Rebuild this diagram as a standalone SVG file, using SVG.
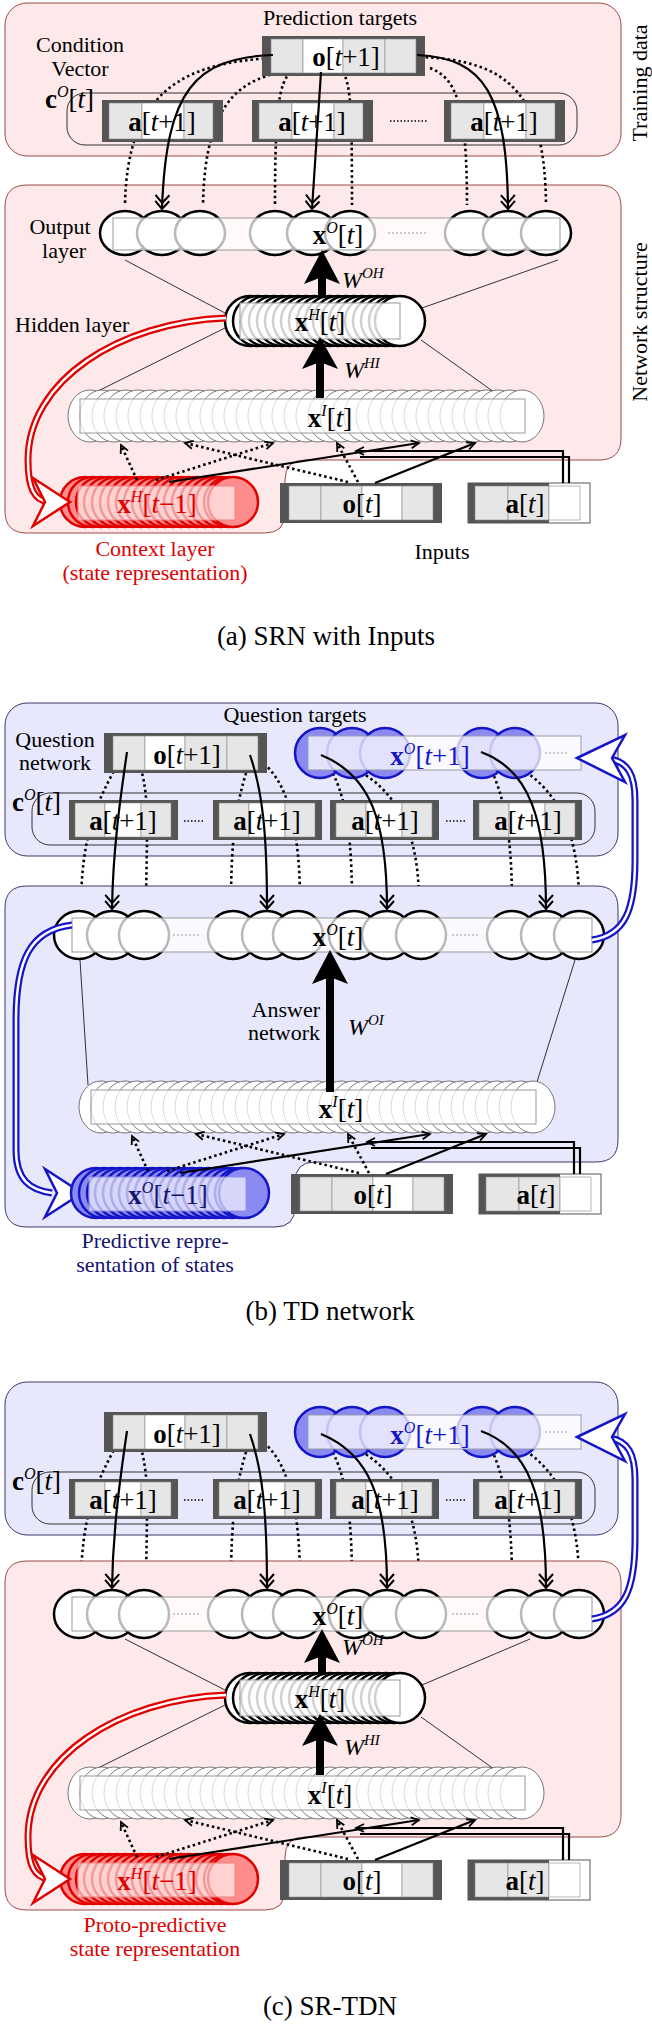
<svg xmlns="http://www.w3.org/2000/svg" xmlns:xlink="http://www.w3.org/1999/xlink" width="652" height="2025" viewBox="0 0 652 2025">
<style>
.t{font-family:"Liberation Serif",serif;font-size:22px;fill:#000}
.m{font-family:"Liberation Serif",serif;font-size:27px;fill:#000}
.w{font-family:"Liberation Serif",serif;font-size:24px;font-style:italic;fill:#000}
.cap{font-family:"Liberation Serif",serif;font-size:27px;fill:#000}
.b{font-weight:bold}.i{font-style:italic}
.dot{fill:none;stroke:#000;stroke-width:2.6;stroke-dasharray:2.5 3}
.sol{fill:none;stroke:#000;stroke-width:2.2}
.thin{fill:none;stroke:#000;stroke-width:0.8}
.pink{fill:#fde9e9;stroke:#a04848;stroke-width:1}
.blue{fill:#e8e8fc;stroke:#38386a;stroke-width:1}
.cin{fill:#fff;stroke:#555;stroke-width:0.8}
.cout{fill:#fff;stroke:#000;stroke-width:2.5}
.bar{fill:#fff;fill-opacity:0.72;stroke:#999;stroke-width:1}
.hbar{fill:#fff;fill-opacity:0.82;stroke:#999;stroke-width:1}
.cred{fill:#ff8c8c;stroke:#e00000;stroke-width:2.5}
.cblu{fill:#8a8af2;stroke:#1515c8;stroke-width:2.5}
.dk{fill:#555}.lg{fill:#e6e6e6;stroke:#888;stroke-width:0.6}.wh{fill:#fff;stroke:#888;stroke-width:0.6}
</style>
<defs>
<marker id="dbl" markerUnits="userSpaceOnUse" viewBox="0 0 16 16" markerWidth="16" markerHeight="16" refX="15" refY="8" orient="auto" overflow="visible"><path d="M1,1 L9,8 L1,15 M7,1 L15,8 L7,15" fill="none" stroke="#000" stroke-width="2" stroke-dasharray="none"/></marker>
<marker id="sm" markerUnits="userSpaceOnUse" viewBox="0 0 10 10" markerWidth="10" markerHeight="10" refX="9" refY="5" orient="auto" overflow="visible"><path d="M1,1 L9,5 L1,9" fill="none" stroke="#000" stroke-width="1.8" stroke-dasharray="none"/></marker>
<g id="inLayer">
<ellipse class="cin" cx="90" cy="416" rx="22" ry="26"/><ellipse class="cin" cx="102" cy="416" rx="22" ry="26"/><ellipse class="cin" cx="114" cy="416" rx="22" ry="26"/><ellipse class="cin" cx="126" cy="416" rx="22" ry="26"/><ellipse class="cin" cx="138" cy="416" rx="22" ry="26"/><ellipse class="cin" cx="150" cy="416" rx="22" ry="26"/><ellipse class="cin" cx="162" cy="416" rx="22" ry="26"/><ellipse class="cin" cx="174" cy="416" rx="22" ry="26"/><ellipse class="cin" cx="186" cy="416" rx="22" ry="26"/><ellipse class="cin" cx="198" cy="416" rx="22" ry="26"/><ellipse class="cin" cx="210" cy="416" rx="22" ry="26"/><ellipse class="cin" cx="222" cy="416" rx="22" ry="26"/><ellipse class="cin" cx="234" cy="416" rx="22" ry="26"/><ellipse class="cin" cx="246" cy="416" rx="22" ry="26"/><ellipse class="cin" cx="258" cy="416" rx="22" ry="26"/><ellipse class="cin" cx="270" cy="416" rx="22" ry="26"/><ellipse class="cin" cx="282" cy="416" rx="22" ry="26"/><ellipse class="cin" cx="294" cy="416" rx="22" ry="26"/><ellipse class="cin" cx="306" cy="416" rx="22" ry="26"/><ellipse class="cin" cx="318" cy="416" rx="22" ry="26"/><ellipse class="cin" cx="330" cy="416" rx="22" ry="26"/><ellipse class="cin" cx="342" cy="416" rx="22" ry="26"/><ellipse class="cin" cx="354" cy="416" rx="22" ry="26"/><ellipse class="cin" cx="366" cy="416" rx="22" ry="26"/><ellipse class="cin" cx="378" cy="416" rx="22" ry="26"/><ellipse class="cin" cx="390" cy="416" rx="22" ry="26"/><ellipse class="cin" cx="402" cy="416" rx="22" ry="26"/><ellipse class="cin" cx="414" cy="416" rx="22" ry="26"/><ellipse class="cin" cx="426" cy="416" rx="22" ry="26"/><ellipse class="cin" cx="438" cy="416" rx="22" ry="26"/><ellipse class="cin" cx="450" cy="416" rx="22" ry="26"/><ellipse class="cin" cx="462" cy="416" rx="22" ry="26"/><ellipse class="cin" cx="474" cy="416" rx="22" ry="26"/><ellipse class="cin" cx="486" cy="416" rx="22" ry="26"/><ellipse class="cin" cx="498" cy="416" rx="22" ry="26"/><ellipse class="cin" cx="510" cy="416" rx="22" ry="26"/><ellipse class="cin" cx="522" cy="416" rx="22" ry="26"/>
<rect class="bar" x="80" y="399" width="445" height="34"/>
</g>
<g id="hidLayer">
<ellipse class="cout" cx="250" cy="321" rx="25" ry="25"/><ellipse class="cout" cx="258" cy="321" rx="25" ry="25"/><ellipse class="cout" cx="266" cy="321" rx="25" ry="25"/><ellipse class="cout" cx="274" cy="321" rx="25" ry="25"/><ellipse class="cout" cx="282" cy="321" rx="25" ry="25"/><ellipse class="cout" cx="290" cy="321" rx="25" ry="25"/><ellipse class="cout" cx="298" cy="321" rx="25" ry="25"/><ellipse class="cout" cx="306" cy="321" rx="25" ry="25"/><ellipse class="cout" cx="314" cy="321" rx="25" ry="25"/><ellipse class="cout" cx="322" cy="321" rx="25" ry="25"/><ellipse class="cout" cx="330" cy="321" rx="25" ry="25"/><ellipse class="cout" cx="338" cy="321" rx="25" ry="25"/><ellipse class="cout" cx="346" cy="321" rx="25" ry="25"/><ellipse class="cout" cx="354" cy="321" rx="25" ry="25"/><ellipse class="cout" cx="362" cy="321" rx="25" ry="25"/><ellipse class="cout" cx="370" cy="321" rx="25" ry="25"/><ellipse class="cout" cx="378" cy="321" rx="25" ry="25"/><ellipse class="cout" cx="386" cy="321" rx="25" ry="25"/><ellipse class="cout" cx="394" cy="321" rx="25" ry="25"/><ellipse class="cout" cx="400" cy="321" rx="25" ry="25"/>
<rect class="hbar" x="240" y="303" width="160" height="36"/>
</g>
<g id="ctxRed">
<ellipse class="cred" cx="85" cy="502" rx="25" ry="25"/><ellipse class="cred" cx="93" cy="502" rx="25" ry="25"/><ellipse class="cred" cx="101" cy="502" rx="25" ry="25"/><ellipse class="cred" cx="109" cy="502" rx="25" ry="25"/><ellipse class="cred" cx="117" cy="502" rx="25" ry="25"/><ellipse class="cred" cx="125" cy="502" rx="25" ry="25"/><ellipse class="cred" cx="133" cy="502" rx="25" ry="25"/><ellipse class="cred" cx="141" cy="502" rx="25" ry="25"/><ellipse class="cred" cx="149" cy="502" rx="25" ry="25"/><ellipse class="cred" cx="157" cy="502" rx="25" ry="25"/><ellipse class="cred" cx="165" cy="502" rx="25" ry="25"/><ellipse class="cred" cx="173" cy="502" rx="25" ry="25"/><ellipse class="cred" cx="181" cy="502" rx="25" ry="25"/><ellipse class="cred" cx="189" cy="502" rx="25" ry="25"/><ellipse class="cred" cx="197" cy="502" rx="25" ry="25"/><ellipse class="cred" cx="205" cy="502" rx="25" ry="25"/><ellipse class="cred" cx="213" cy="502" rx="25" ry="25"/><ellipse class="cred" cx="221" cy="502" rx="25" ry="25"/><ellipse class="cred" cx="229" cy="502" rx="25" ry="25"/><ellipse class="cred" cx="233" cy="502" rx="25" ry="25"/>
<rect x="78" y="486" width="157" height="34" fill="#fff" fill-opacity="0.6" stroke="#f08080"/>
</g>
<g id="out3">
<ellipse class="cout" cx="125" cy="233" rx="25" ry="22"/><ellipse class="cout" cx="162" cy="233" rx="25" ry="22"/><ellipse class="cout" cx="200" cy="233" rx="25" ry="22"/><ellipse class="cout" cx="275" cy="233" rx="25" ry="22"/><ellipse class="cout" cx="312" cy="233" rx="25" ry="22"/><ellipse class="cout" cx="350" cy="233" rx="25" ry="22"/><ellipse class="cout" cx="470" cy="233" rx="25" ry="22"/><ellipse class="cout" cx="508" cy="233" rx="25" ry="22"/><ellipse class="cout" cx="546" cy="233" rx="25" ry="22"/>
<rect class="bar" x="113" y="218" width="447" height="32"/>
<line x1="388" y1="233" x2="428" y2="233" stroke="#bbb" stroke-width="1.5" stroke-dasharray="2 2"/>
</g>
<g id="out4">
<ellipse class="cout" cx="79" cy="935" rx="25" ry="24"/><ellipse class="cout" cx="112" cy="935" rx="25" ry="24"/><ellipse class="cout" cx="144" cy="935" rx="25" ry="24"/><ellipse class="cout" cx="233" cy="935" rx="25" ry="24"/><ellipse class="cout" cx="267" cy="935" rx="25" ry="24"/><ellipse class="cout" cx="298" cy="935" rx="25" ry="24"/><ellipse class="cout" cx="354" cy="935" rx="25" ry="24"/><ellipse class="cout" cx="387" cy="935" rx="25" ry="24"/><ellipse class="cout" cx="421" cy="935" rx="25" ry="24"/><ellipse class="cout" cx="512" cy="935" rx="25" ry="24"/><ellipse class="cout" cx="546" cy="935" rx="25" ry="24"/><ellipse class="cout" cx="579" cy="935" rx="25" ry="24"/>
<rect class="bar" x="72" y="918" width="520" height="34"/>
<line x1="173" y1="935" x2="201" y2="935" stroke="#bbb" stroke-width="1.5" stroke-dasharray="2 2"/>
<line x1="452" y1="935" x2="480" y2="935" stroke="#bbb" stroke-width="1.5" stroke-dasharray="2 2"/>
</g>
<g id="qBlue">
<ellipse class="cblu" cx="320" cy="753" rx="25" ry="25" stroke-width="1.5"/><ellipse class="cblu" cx="352" cy="753" rx="25" ry="25" stroke-width="1.5"/><ellipse class="cblu" cx="385" cy="753" rx="25" ry="25" stroke-width="1.5"/><ellipse class="cblu" cx="482" cy="753" rx="25" ry="25" stroke-width="1.5"/><ellipse class="cblu" cx="515" cy="753" rx="25" ry="25" stroke-width="1.5"/>
<rect x="308" y="736" width="273" height="34" fill="#fff" fill-opacity="0.75" stroke="#99a"/>
<line x1="545" y1="753" x2="568" y2="753" stroke="#bbb" stroke-width="1.5" stroke-dasharray="2 2"/>
</g>
<g id="boxA1"><rect class="dk" x="0" y="0" width="121" height="42"/><rect class="lg" x="7" y="3" width="33" height="36"/><rect class="wh" x="40" y="3" width="42" height="36"/><rect class="lg" x="82" y="3" width="29" height="36"/></g>
<g id="boxA2"><rect class="dk" x="0" y="0" width="109" height="40"/><rect class="lg" x="6" y="3" width="30" height="34"/><rect class="wh" x="36" y="3" width="36" height="34"/><rect class="lg" x="72" y="3" width="30" height="34"/></g>
<g id="boxO"><rect class="dk" x="0" y="0" width="163" height="40"/><rect class="lg" x="9" y="3" width="32" height="34"/><rect class="wh" x="41" y="3" width="40" height="34"/><rect class="lg" x="81" y="3" width="42" height="34"/><rect class="lg" x="123" y="3" width="31" height="34"/></g>
<g id="boxOt"><rect class="dk" x="0" y="0" width="162" height="40"/><rect class="lg" x="9" y="3" width="32" height="34"/><rect class="lg" x="41" y="3" width="41" height="34"/><rect class="wh" x="82" y="3" width="40" height="34"/><rect class="lg" x="122" y="3" width="31" height="34"/></g>
<g id="boxAt"><rect x="0" y="0" width="122" height="40" fill="#fff" stroke="#555" stroke-width="1"/><rect class="dk" x="0" y="0" width="81" height="40"/><rect class="lg" x="7" y="3" width="33" height="34"/><rect class="lg" x="40" y="3" width="41" height="34"/><rect class="wh" x="81" y="3" width="31" height="34"/></g>
</defs>
<rect width="652" height="2025" fill="#fff"/>

<!-- ================= PANEL A ================= -->
<g id="a-panels">
<rect class="pink" x="5" y="3" width="616" height="153" rx="22"/>
<path class="pink" d="M27,185 H599 Q621,185 621,207 V438 Q621,460 599,460 H305 Q285,460 285,480 V513 Q285,533 265,533 H27 Q5,533 5,511 V207 Q5,185 27,185 Z"/>
<rect x="67" y="93" width="510" height="52" rx="18" fill="none" stroke="#333" stroke-width="1"/>
<text class="t" transform="translate(647,83) rotate(-90)" text-anchor="middle">Training data</text>
<text class="t" transform="translate(647,322) rotate(-90)" text-anchor="middle">Network structure</text>
</g>
<g id="a-connectors-under">
<path class="dot" d="M275,58 C185,62 127,90 125,205"/>
<path class="dot" d="M292,70 C245,78 205,95 203,205"/>
<path class="dot" d="M290,72 C280,85 275,100 275,205"/>
<path class="dot" d="M343,72 C350,85 352,100 352,205"/>
<path class="dot" d="M420,57 C510,60 545,95 546,205"/>
<path class="dot" d="M430,68 C455,78 467,100 467,205"/>
</g>
<g id="a-otp1"><use href="#boxO" x="262" y="36"/><text class="m" x="346" y="66" text-anchor="middle"><tspan class="b">o</tspan>[<tspan class="i">t</tspan>+1]</text></g>
<g id="a-a1"><use href="#boxA1" x="102" y="100"/><text class="m" x="162" y="131" text-anchor="middle"><tspan class="b">a</tspan>[<tspan class="i">t</tspan>+1]</text></g>
<g id="a-a2"><use href="#boxA1" x="252" y="100"/><text class="m" x="312" y="131" text-anchor="middle"><tspan class="b">a</tspan>[<tspan class="i">t</tspan>+1]</text></g>
<g id="a-a3"><use href="#boxA1" x="444" y="100"/><text class="m" x="504" y="131" text-anchor="middle"><tspan class="b">a</tspan>[<tspan class="i">t</tspan>+1]</text></g>
<line x1="390" y1="121" x2="428" y2="121" stroke="#000" stroke-width="1.5" stroke-dasharray="1.5 2"/>
<g id="a-labels">
<text class="t" x="340" y="25" text-anchor="middle">Prediction targets</text>
<text class="t" x="80" y="52" text-anchor="middle">Condition</text>
<text class="t" x="80" y="76" text-anchor="middle">Vector</text>
<text class="m" x="45" y="108"><tspan class="b">c</tspan><tspan class="i" font-size="16" dy="-11">O</tspan><tspan dy="11">[</tspan><tspan class="i">t</tspan>]</text>
<text class="t" x="60" y="234" text-anchor="middle">Output</text>
<text class="t" x="64" y="258" text-anchor="middle">layer</text>
<text class="t" x="15" y="332">Hidden layer</text>
<text class="t" x="155" y="556" text-anchor="middle" style="fill:#e00000">Context layer</text>
<text class="t" x="155" y="580" text-anchor="middle" style="fill:#e00000">(state representation)</text>
<text class="t" x="442" y="559" text-anchor="middle">Inputs</text>
<text class="cap" x="326" y="645" text-anchor="middle">(a) SRN with Inputs</text>
</g>
<g id="a-lines">
<line class="thin" x1="125" y1="260" x2="225" y2="313"/>
<line class="thin" x1="558" y1="260" x2="422" y2="308"/>
<line class="thin" x1="225" y1="328" x2="96" y2="392"/>
<line class="thin" x1="421" y1="340" x2="494" y2="392"/>
</g>
<g id="a-output"><use href="#out3"/><text class="m" x="338" y="244" text-anchor="middle"><tspan class="b">x</tspan><tspan class="i" font-size="16" dy="-11">O</tspan><tspan dy="11">[</tspan><tspan class="i">t</tspan>]</text></g>
<g id="a-connectors-top">
<path class="sol" d="M273,55 C195,58 166,90 162,209" marker-end="url(#dbl)"/>
<path class="sol" d="M321,72 L312,209" marker-end="url(#dbl)"/>
<path class="sol" d="M417,55 C485,58 507,95 508,209" marker-end="url(#dbl)"/>
</g>
<g id="a-lower">
<g id="a-input"><use href="#inLayer"/><text class="m" x="330" y="427" text-anchor="middle"><tspan class="b">x</tspan><tspan class="i" font-size="16" dy="-11">I</tspan><tspan dy="11">[</tspan><tspan class="i">t</tspan>]</text></g>
<g id="a-hidden"><use href="#hidLayer"/><text class="m" x="320" y="331" text-anchor="middle"><tspan class="b">x</tspan><tspan class="i" font-size="16" dy="-11">H</tspan><tspan dy="11">[</tspan><tspan class="i">t</tspan>]</text></g>
<g id="a-context"><use href="#ctxRed"/><text class="m" x="157" y="513" text-anchor="middle" style="fill:#e00000"><tspan class="b">x</tspan><tspan class="i" font-size="16" dy="-11">H</tspan><tspan dy="11">[</tspan><tspan class="i">t</tspan>−1]</text></g>
<g id="a-ot"><use href="#boxOt" x="280" y="483"/><text class="m" x="362" y="513" text-anchor="middle"><tspan class="b">o</tspan>[<tspan class="i">t</tspan>]</text></g>
<g id="a-at"><use href="#boxAt" x="468" y="483"/><text class="m" x="525" y="513" text-anchor="middle"><tspan class="b">a</tspan>[<tspan class="i">t</tspan>]</text></g>
<g id="a-lower-connectors">
<path class="dot" d="M137,480 L121,445" marker-end="url(#sm)"/>
<path class="dot" d="M156,480 L273,443" marker-end="url(#sm)"/>
<path class="dot" d="M348,482 L185,443" marker-end="url(#sm)"/>
<path class="dot" d="M358,482 L337,443" marker-end="url(#sm)"/>
<path class="sol" d="M169,482 L419,443" marker-end="url(#sm)"/>
<path class="sol" d="M375,483 L475,443" marker-end="url(#sm)"/>
<path class="sol" d="M563,483 V451 H356" marker-end="url(#sm)"/>
<path class="sol" d="M569,483 V457 H360"/>
<path d="M226,318 C120,322 28,380 28,460 C28,490 35,500 48,502" fill="none" stroke="#e00000" stroke-width="7"/>
<path d="M226,318 C120,322 28,380 28,460 C28,490 35,500 48,502" fill="none" stroke="#fff" stroke-width="2.5"/>
<polygon points="70,502 33,478 45,502 33,526" fill="#fff" stroke="#e00000" stroke-width="2.5"/>
</g>
<g id="a-weights">
<rect x="318" y="274" width="8" height="24" fill="#000"/>
<polygon points="322,250 340,284 322,277 304,284" fill="#000"/>
<text class="w" x="342" y="288">W<tspan font-size="15" dy="-10">OH</tspan></text>
<rect x="316" y="360" width="8" height="38" fill="#000"/>
<polygon points="320,337 338,369 320,362 302,369" fill="#000"/>
<text class="w" x="344" y="378">W<tspan font-size="15" dy="-10">HI</tspan></text>
</g>
</g>

<!-- ================= PANEL B ================= -->
<g id="b-top">
<rect class="blue" x="5" y="703" width="613" height="153" rx="22"/>
<rect x="32" y="793" width="563" height="52" rx="18" fill="none" stroke="#333" stroke-width="1"/>
<g id="b-connectors-under">
<path class="dot" d="M121,757 C105,790 82,820 81,903"/>
<path class="dot" d="M137,758 C150,790 147,820 146,903"/>
<path class="dot" d="M246,773 C238,800 231,830 231,903"/>
<path class="dot" d="M250,755 C285,770 300,820 300,903"/>
<path class="dot" d="M321,755 C340,780 352,810 352,903"/>
<path class="dot" d="M321,755 C390,775 419,820 419,903"/>
<path class="dot" d="M481,752 C500,780 512,820 512,903"/>
<path class="dot" d="M481,752 C550,770 579,820 579,903"/>
</g>
<g id="b-otp1"><use href="#boxO" x="104" y="733"/><text class="m" x="187" y="764" text-anchor="middle"><tspan class="b">o</tspan>[<tspan class="i">t</tspan>+1]</text></g>
<g id="b-xotp1"><use href="#qBlue"/><text class="m" x="430" y="765" text-anchor="middle" style="fill:#1515c8"><tspan class="b">x</tspan><tspan class="i" font-size="16" dy="-11">O</tspan><tspan dy="11">[</tspan><tspan class="i">t</tspan>+1]</text></g>
<g id="b-a1"><use href="#boxA2" x="69" y="800"/><text class="m" x="123" y="830" text-anchor="middle"><tspan class="b">a</tspan>[<tspan class="i">t</tspan>+1]</text></g>
<g id="b-a2"><use href="#boxA2" x="213" y="800"/><text class="m" x="267" y="830" text-anchor="middle"><tspan class="b">a</tspan>[<tspan class="i">t</tspan>+1]</text></g>
<g id="b-a3"><use href="#boxA2" x="330" y="800"/><text class="m" x="385" y="830" text-anchor="middle"><tspan class="b">a</tspan>[<tspan class="i">t</tspan>+1]</text></g>
<g id="b-a4"><use href="#boxA2" x="473" y="800"/><text class="m" x="528" y="830" text-anchor="middle"><tspan class="b">a</tspan>[<tspan class="i">t</tspan>+1]</text></g>
<line x1="184" y1="821" x2="204" y2="821" stroke="#000" stroke-width="1.5" stroke-dasharray="1.5 2"/>
<line x1="446" y1="821" x2="466" y2="821" stroke="#000" stroke-width="1.5" stroke-dasharray="1.5 2"/>
<text class="m" x="12" y="811"><tspan class="b">c</tspan><tspan class="i" font-size="16" dy="-11">O</tspan><tspan dy="11">[</tspan><tspan class="i">t</tspan>]</text>
</g>
<g id="b-labels">
<text class="t" x="295" y="722" text-anchor="middle">Question targets</text>
<text class="t" x="55" y="747" text-anchor="middle">Question</text>
<text class="t" x="55" y="770" text-anchor="middle">network</text>
</g>
<g id="b-net">
<path class="blue" d="M27,886 H596 Q618,886 618,908 V1140 Q618,1162 596,1162 H315 Q295,1162 295,1182 V1207 Q295,1227 275,1227 H27 Q5,1227 5,1205 V908 Q5,886 27,886 Z"/>
<line class="thin" x1="80" y1="960" x2="88" y2="1085"/>
<line class="thin" x1="575" y1="960" x2="537" y2="1082"/>
<g id="b-output"><use href="#out4"/><text class="m" x="338" y="946" text-anchor="middle"><tspan class="b">x</tspan><tspan class="i" font-size="16" dy="-11">O</tspan><tspan dy="11">[</tspan><tspan class="i">t</tspan>]</text></g>
<g id="b-connectors-top">
<path class="sol" d="M127,752 C120,800 113,850 112,909" marker-end="url(#dbl)"/>
<path class="sol" d="M250,755 C262,790 267,830 267,909" marker-end="url(#dbl)"/>
<path class="sol" d="M321,755 C370,775 387,820 387,909" marker-end="url(#dbl)"/>
<path class="sol" d="M481,752 C530,770 546,820 546,909" marker-end="url(#dbl)"/>
<path d="M592,940 C625,935 635,910 635,860 L635,800 C635,775 628,762 610,759" fill="none" stroke="#1515c8" stroke-width="7"/>
<path d="M592,940 C625,935 635,910 635,860 L635,800 C635,775 628,762 610,759" fill="none" stroke="#fff" stroke-width="2.5"/>
<polygon points="577,758 625,735 612,758 625,782" fill="#fff" stroke="#1515c8" stroke-width="2.5"/>
<path d="M72,925 C30,930 16,960 16,1020 L16,1150 C16,1180 30,1190 52,1193" fill="none" stroke="#1515c8" stroke-width="7"/>
<path d="M72,925 C30,930 16,960 16,1020 L16,1150 C16,1180 30,1190 52,1193" fill="none" stroke="#fff" stroke-width="2.5"/>
<polygon points="82,1193 45,1169 57,1193 45,1217" fill="#fff" stroke="#1515c8" stroke-width="2.5"/>
</g>
<g transform="translate(11,691)">
<g id="b-input"><use href="#inLayer"/><text class="m" x="330" y="427" text-anchor="middle"><tspan class="b">x</tspan><tspan class="i" font-size="16" dy="-11">I</tspan><tspan dy="11">[</tspan><tspan class="i">t</tspan>]</text></g>
<g id="b-context">
<ellipse class="cblu" cx="85" cy="502" rx="25" ry="25"/><ellipse class="cblu" cx="93" cy="502" rx="25" ry="25"/><ellipse class="cblu" cx="101" cy="502" rx="25" ry="25"/><ellipse class="cblu" cx="109" cy="502" rx="25" ry="25"/><ellipse class="cblu" cx="117" cy="502" rx="25" ry="25"/><ellipse class="cblu" cx="125" cy="502" rx="25" ry="25"/><ellipse class="cblu" cx="133" cy="502" rx="25" ry="25"/><ellipse class="cblu" cx="141" cy="502" rx="25" ry="25"/><ellipse class="cblu" cx="149" cy="502" rx="25" ry="25"/><ellipse class="cblu" cx="157" cy="502" rx="25" ry="25"/><ellipse class="cblu" cx="165" cy="502" rx="25" ry="25"/><ellipse class="cblu" cx="173" cy="502" rx="25" ry="25"/><ellipse class="cblu" cx="181" cy="502" rx="25" ry="25"/><ellipse class="cblu" cx="189" cy="502" rx="25" ry="25"/><ellipse class="cblu" cx="197" cy="502" rx="25" ry="25"/><ellipse class="cblu" cx="205" cy="502" rx="25" ry="25"/><ellipse class="cblu" cx="213" cy="502" rx="25" ry="25"/><ellipse class="cblu" cx="221" cy="502" rx="25" ry="25"/><ellipse class="cblu" cx="229" cy="502" rx="25" ry="25"/><ellipse class="cblu" cx="233" cy="502" rx="25" ry="25"/>
<rect x="78" y="486" width="157" height="34" fill="#fff" fill-opacity="0.65" stroke="#9090e0"/>
<text class="m" x="157" y="513" text-anchor="middle" style="fill:#14146e"><tspan class="b">x</tspan><tspan class="i" font-size="16" dy="-11">O</tspan><tspan dy="11">[</tspan><tspan class="i">t</tspan>−1]</text>
</g>
<g id="b-ot"><use href="#boxOt" x="280" y="483"/><text class="m" x="362" y="513" text-anchor="middle"><tspan class="b">o</tspan>[<tspan class="i">t</tspan>]</text></g>
<g id="b-at"><use href="#boxAt" x="468" y="483"/><text class="m" x="525" y="513" text-anchor="middle"><tspan class="b">a</tspan>[<tspan class="i">t</tspan>]</text></g>
<g id="b-lower-connectors">
<path class="dot" d="M137,480 L121,445" marker-end="url(#sm)"/>
<path class="dot" d="M156,480 L273,443" marker-end="url(#sm)"/>
<path class="dot" d="M348,482 L185,443" marker-end="url(#sm)"/>
<path class="dot" d="M358,482 L337,443" marker-end="url(#sm)"/>
<path class="sol" d="M169,482 L419,443" marker-end="url(#sm)"/>
<path class="sol" d="M375,483 L475,443" marker-end="url(#sm)"/>
<path class="sol" d="M563,483 V451 H356" marker-end="url(#sm)"/>
<path class="sol" d="M569,483 V457 H360"/>
</g>
</g>
<g id="b-weights">
<rect x="326" y="975" width="8" height="117" fill="#000"/>
<polygon points="330,950 348,984 330,977 312,984" fill="#000"/>
<text class="t" x="320" y="1017" text-anchor="end">Answer</text>
<text class="t" x="320" y="1040" text-anchor="end">network</text>
<text class="w" x="348" y="1035">W<tspan font-size="15" dy="-10">OI</tspan></text>
</g>
<text class="t" x="155" y="1248" text-anchor="middle" style="fill:#14146e">Predictive repre-</text>
<text class="t" x="155" y="1272" text-anchor="middle" style="fill:#14146e">sentation of states</text>
<text class="cap" x="330" y="1320" text-anchor="middle">(b) TD network</text>
</g>

<!-- ================= PANEL C ================= -->
<g id="c-top" transform="translate(0,679)">
<rect class="blue" x="5" y="703" width="613" height="153" rx="22"/>
<rect x="32" y="793" width="563" height="52" rx="18" fill="none" stroke="#333" stroke-width="1"/>
<g id="c-connectors-under">
<path class="dot" d="M121,757 C105,790 82,820 81,903"/>
<path class="dot" d="M137,758 C150,790 147,820 146,903"/>
<path class="dot" d="M246,773 C238,800 231,830 231,903"/>
<path class="dot" d="M250,755 C285,770 300,820 300,903"/>
<path class="dot" d="M321,755 C340,780 352,810 352,903"/>
<path class="dot" d="M321,755 C390,775 419,820 419,903"/>
<path class="dot" d="M481,752 C500,780 512,820 512,903"/>
<path class="dot" d="M481,752 C550,770 579,820 579,903"/>
</g>
<g id="c-otp1"><use href="#boxO" x="104" y="733"/><text class="m" x="187" y="764" text-anchor="middle"><tspan class="b">o</tspan>[<tspan class="i">t</tspan>+1]</text></g>
<g id="c-xotp1"><use href="#qBlue"/><text class="m" x="430" y="765" text-anchor="middle" style="fill:#1515c8"><tspan class="b">x</tspan><tspan class="i" font-size="16" dy="-11">O</tspan><tspan dy="11">[</tspan><tspan class="i">t</tspan>+1]</text></g>
<g id="c-a1"><use href="#boxA2" x="69" y="800"/><text class="m" x="123" y="830" text-anchor="middle"><tspan class="b">a</tspan>[<tspan class="i">t</tspan>+1]</text></g>
<g id="c-a2"><use href="#boxA2" x="213" y="800"/><text class="m" x="267" y="830" text-anchor="middle"><tspan class="b">a</tspan>[<tspan class="i">t</tspan>+1]</text></g>
<g id="c-a3"><use href="#boxA2" x="330" y="800"/><text class="m" x="385" y="830" text-anchor="middle"><tspan class="b">a</tspan>[<tspan class="i">t</tspan>+1]</text></g>
<g id="c-a4"><use href="#boxA2" x="473" y="800"/><text class="m" x="528" y="830" text-anchor="middle"><tspan class="b">a</tspan>[<tspan class="i">t</tspan>+1]</text></g>
<line x1="184" y1="821" x2="204" y2="821" stroke="#000" stroke-width="1.5" stroke-dasharray="1.5 2"/>
<line x1="446" y1="821" x2="466" y2="821" stroke="#000" stroke-width="1.5" stroke-dasharray="1.5 2"/>
<text class="m" x="12" y="811"><tspan class="b">c</tspan><tspan class="i" font-size="16" dy="-11">O</tspan><tspan dy="11">[</tspan><tspan class="i">t</tspan>]</text>
</g>
<g id="c-net">
<path class="pink" d="M27,1561 H599 Q621,1561 621,1583 V1815 Q621,1837 599,1837 H305 Q285,1837 285,1857 V1890 Q285,1910 265,1910 H27 Q5,1910 5,1888 V1583 Q5,1561 27,1561 Z"/>
<line class="thin" x1="125" y1="1639" x2="225" y2="1690"/>
<line class="thin" x1="530" y1="1639" x2="422" y2="1685"/>
<line class="thin" x1="225" y1="1705" x2="96" y2="1769"/>
<line class="thin" x1="421" y1="1717" x2="494" y2="1769"/>
<g transform="translate(0,679)">
<g id="c-output"><use href="#out4"/><text class="m" x="338" y="946" text-anchor="middle"><tspan class="b">x</tspan><tspan class="i" font-size="16" dy="-11">O</tspan><tspan dy="11">[</tspan><tspan class="i">t</tspan>]</text></g>
<g id="c-connectors-top">
<path class="sol" d="M127,752 C120,800 113,850 112,909" marker-end="url(#dbl)"/>
<path class="sol" d="M250,755 C262,790 267,830 267,909" marker-end="url(#dbl)"/>
<path class="sol" d="M321,755 C370,775 387,820 387,909" marker-end="url(#dbl)"/>
<path class="sol" d="M481,752 C530,770 546,820 546,909" marker-end="url(#dbl)"/>
<path d="M592,940 C625,935 635,910 635,860 L635,800 C635,775 628,762 610,759" fill="none" stroke="#1515c8" stroke-width="7"/>
<path d="M592,940 C625,935 635,910 635,860 L635,800 C635,775 628,762 610,759" fill="none" stroke="#fff" stroke-width="2.5"/>
<polygon points="577,758 625,735 612,758 625,782" fill="#fff" stroke="#1515c8" stroke-width="2.5"/>
</g>
</g>
<g transform="translate(0,1377)">
<g id="c-input"><use href="#inLayer"/><text class="m" x="330" y="427" text-anchor="middle"><tspan class="b">x</tspan><tspan class="i" font-size="16" dy="-11">I</tspan><tspan dy="11">[</tspan><tspan class="i">t</tspan>]</text></g>
<g id="c-hidden"><use href="#hidLayer"/><text class="m" x="320" y="331" text-anchor="middle"><tspan class="b">x</tspan><tspan class="i" font-size="16" dy="-11">H</tspan><tspan dy="11">[</tspan><tspan class="i">t</tspan>]</text></g>
<g id="c-context"><use href="#ctxRed"/><text class="m" x="157" y="513" text-anchor="middle" style="fill:#e00000"><tspan class="b">x</tspan><tspan class="i" font-size="16" dy="-11">H</tspan><tspan dy="11">[</tspan><tspan class="i">t</tspan>−1]</text></g>
<g id="c-ot"><use href="#boxOt" x="280" y="483"/><text class="m" x="362" y="513" text-anchor="middle"><tspan class="b">o</tspan>[<tspan class="i">t</tspan>]</text></g>
<g id="c-at"><use href="#boxAt" x="468" y="483"/><text class="m" x="525" y="513" text-anchor="middle"><tspan class="b">a</tspan>[<tspan class="i">t</tspan>]</text></g>
<g id="c-lower-connectors">
<path class="dot" d="M137,480 L121,445" marker-end="url(#sm)"/>
<path class="dot" d="M156,480 L273,443" marker-end="url(#sm)"/>
<path class="dot" d="M348,482 L185,443" marker-end="url(#sm)"/>
<path class="dot" d="M358,482 L337,443" marker-end="url(#sm)"/>
<path class="sol" d="M169,482 L419,443" marker-end="url(#sm)"/>
<path class="sol" d="M375,483 L475,443" marker-end="url(#sm)"/>
<path class="sol" d="M563,483 V451 H356" marker-end="url(#sm)"/>
<path class="sol" d="M569,483 V457 H360"/>
<path d="M226,318 C120,322 28,380 28,460 C28,490 35,500 48,502" fill="none" stroke="#e00000" stroke-width="7"/>
<path d="M226,318 C120,322 28,380 28,460 C28,490 35,500 48,502" fill="none" stroke="#fff" stroke-width="2.5"/>
<polygon points="70,502 33,478 45,502 33,526" fill="#fff" stroke="#e00000" stroke-width="2.5"/>
</g>
<g id="c-weights">
<rect x="318" y="274" width="8" height="24" fill="#000"/>
<polygon points="322,252 340,286 322,279 304,286" fill="#000"/>
<text class="w" x="342" y="278">W<tspan font-size="15" dy="-10">OH</tspan></text>
<rect x="316" y="360" width="8" height="38" fill="#000"/>
<polygon points="320,337 338,369 320,362 302,369" fill="#000"/>
<text class="w" x="344" y="378">W<tspan font-size="15" dy="-10">HI</tspan></text>
</g>
</g>
<text class="t" x="155" y="1932" text-anchor="middle" style="fill:#e00000">Proto-predictive</text>
<text class="t" x="155" y="1956" text-anchor="middle" style="fill:#e00000">state representation</text>
<text class="cap" x="330" y="2015" text-anchor="middle">(c) SR-TDN</text>
</g>
</svg>
